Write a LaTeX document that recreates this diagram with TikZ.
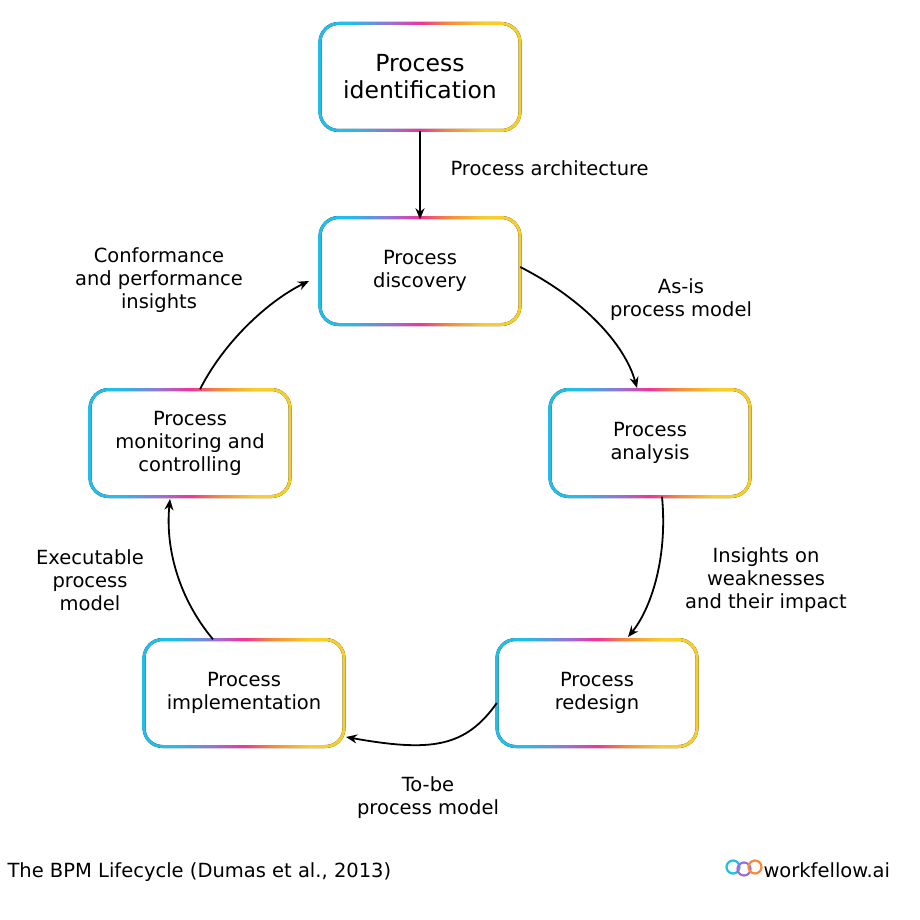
\documentclass[tikz,border=0pt]{standalone}
\usepackage{fontspec}
\setmainfont{DejaVu Sans}
\usetikzlibrary{arrows.meta}
\definecolor{gc}{HTML}{22BDEB}
\definecolor{gp}{HTML}{9B6FD6}
\definecolor{gk}{HTML}{F0339A}
\definecolor{go}{HTML}{F7893A}
\definecolor{gy}{HTML}{F8CF2A}
\pgfdeclarehorizontalshading{grad}{100bp}{color(0bp)=(gc);color(33bp)=(gc);color(43bp)=(gp);color(50bp)=(gk);color(57bp)=(go);color(66bp)=(gy);color(100bp)=(gy)}
\begin{document}
\begin{tikzpicture}[x=1pt,y=-1pt,
  lbl/.style={font=\fontsize{19.5}{23}\selectfont,align=center,text=black},
  big/.style={font=\fontsize{23.5}{27}\selectfont},
  arr/.style={-{Stealth[length=11pt,width=9pt]},line width=1.8pt,black}]
\useasboundingbox (0,0) rectangle (920,920);
\fill[white] (0,0) rectangle (920,920);
\newcommand\gbox[5][]{% opts, name, cx, cy, text
  \fill[shading=grad,even odd rule,rounded corners=20pt]
    (#3-101.5,#4-55) rectangle (#3+101.5,#4+55)
    [rounded corners=17pt] (#3-98.5,#4-52) rectangle (#3+98.5,#4+52);
  \node[lbl,#1,minimum width=200pt,minimum height=107pt] (#2) at (#3,#4) {#5};}
\gbox[big]{ide}{420}{77}{Process\\identification}
\gbox{dis}{420}{271}{Process\\discovery}
\gbox{ana}{650}{443}{Process\\analysis}
\gbox{red}{597}{693}{Process\\redesign}
\gbox{imp}{244}{693}{Process\\implementation}
\gbox{mon}{190}{443}{Process\\monitoring and\\controlling}
\draw[arr] (ide.south) -- ([yshift=-2pt]dis.north);
\draw[arr] ([yshift=4pt]dis.east) .. controls (585,300) and (625,345) .. (637,388);
\draw[arr] ([xshift=12pt]ana.south) .. controls (668,560) and (650,610) .. (628,637);
\draw[arr] ([yshift=-10pt]red.west) .. controls (465,748) and (430,752) .. (346,737);
\draw[arr] ([xshift=-31pt]imp.north) .. controls (180,600) and (165,550) .. (170,499);
\draw[arr] ([xshift=10pt]mon.north) .. controls (225,340) and (270,300) .. (309,281);
\node[lbl,anchor=west] (t1) at (447,168) {Process architecture};
\node[lbl] (t2) at (681,300) {As-is\\process model};
\node[lbl] (t3) at (766,580) {Insights on\\weaknesses\\and their impact};
\node[lbl] (t4) at (428,798) {To-be\\process model};
\node[lbl] (t5) at (90,580) {Executable\\process\\model};
\node[lbl] (t6) at (159,280) {Conformance\\and performance\\insights};
\node[lbl,anchor=west] (ft) at (4,872) {The BPM Lifecycle (Dumas et al., 2013)};
\node[lbl,anchor=west] (lg) at (760,870) {workfellow.ai};
\draw[gc,line width=2.2pt] (733,867) circle (6.5);
\draw[gp,line width=2.2pt] (744,869) circle (6.5);
\draw[go,line width=2.2pt] (755,867) circle (6.5);
\end{tikzpicture}
\end{document}
